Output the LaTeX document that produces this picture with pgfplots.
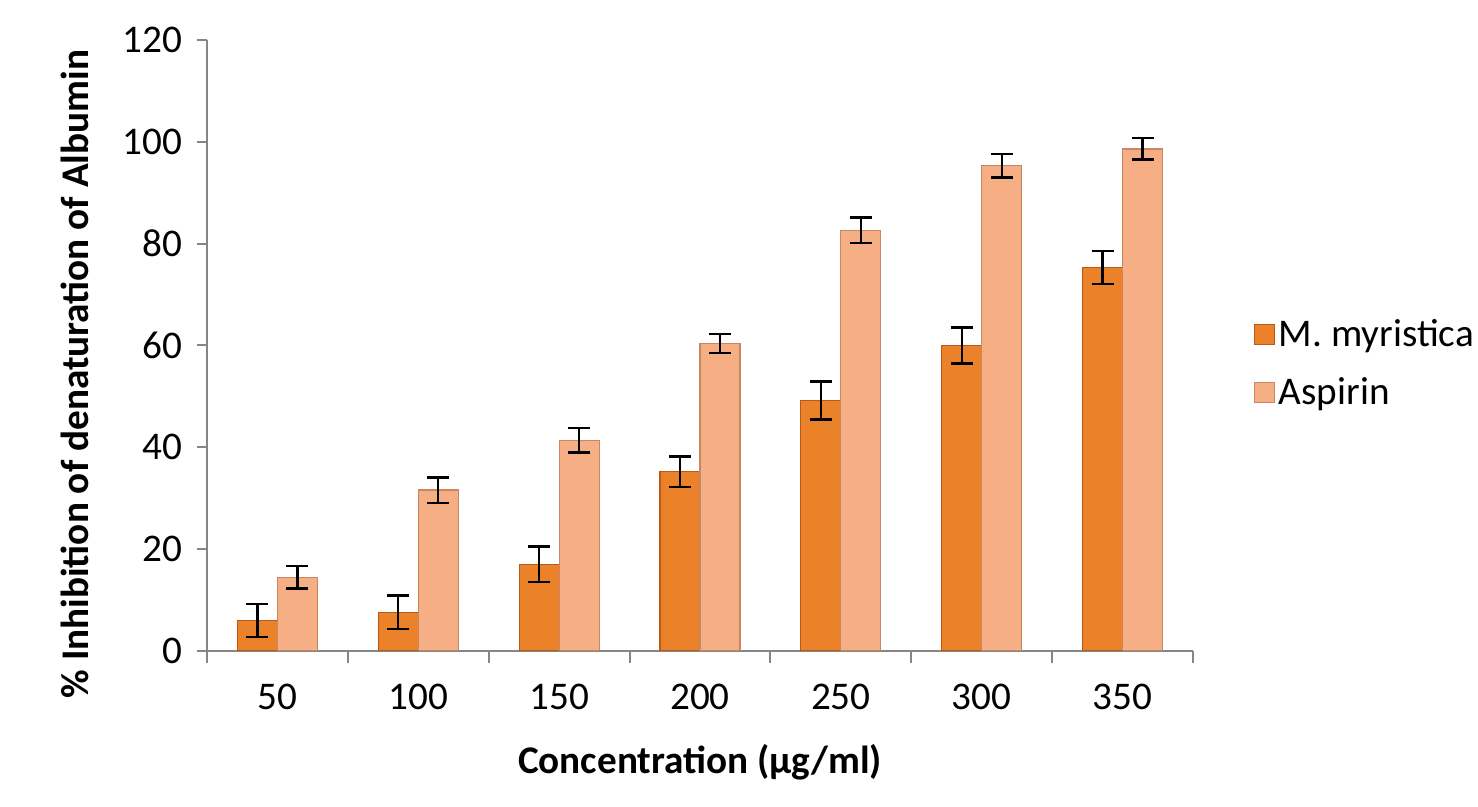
\documentclass[border=0pt]{standalone}
\usepackage{pgfplots}
\pgfplotsset{compat=1.18}
\usepackage{fontspec}
\setmainfont{Carlito}
\definecolor{axgray}{HTML}{868686}
\definecolor{morFill}{HTML}{EB8129}
\definecolor{morEdge}{HTML}{B85A17}
\definecolor{aspFill}{HTML}{F6AE84}
\definecolor{aspEdge}{HTML}{C98663}
\begin{document}
\begin{tikzpicture}
\begin{axis}[
  name=ax,
  scale only axis,
  width=493pt, height=305.5pt,
  xmin=-0.5, xmax=6.5,
  ymin=0, ymax=120,
  ytick={0,20,...,120},
  xtick={0,...,6},
  xticklabels={50,100,150,200,250,300,350},
  minor xtick={-0.5,0.5,...,6.5},
  axis x line=bottom, axis y line=left,
  axis line style={-, axgray, line width=1pt},
  tick style={axgray, line width=1pt},
  major tick length=5pt,
  minor tick length=6pt,
  x tick style={draw=none},
  minor x tick style={draw=axgray, line width=1pt},
  xtick align=outside, ytick align=outside,
  tick label style={font=\fontsize{19.6}{23}\selectfont},
  /pgf/number format/assume math mode=true,
  yticklabel style={xshift=-4pt},
  xticklabel style={yshift=-8pt},
  ylabel={\textbf{\% Inhibition of denaturation of Albumin}},
  ylabel style={font=\fontsize{19.6}{23}\selectfont, at={(axis description cs:-0.134,0.453)}, anchor=center},
  xlabel={\textbf{Concentration (µg/ml)}},
  xlabel style={font=\fontsize{19.6}{23}\selectfont, at={(axis description cs:0.5,-0.182)}, anchor=center},
  ybar=0pt, bar width=20pt,
  legend style={at={(1.055,0.471)}, anchor=west, draw=none, fill=none,
    font=\fontsize{19.6}{23}\selectfont, row sep=10pt,
    legend cell align=left},
  legend image code/.code={\draw[#1] (0pt,-5pt) rectangle (10pt,5pt);},
  error bars/error bar style={line width=1.2pt, black},
  error bars/error mark options={rotate=90, mark size=5.5pt, line width=1.2pt, black},
]
\addplot[fill=morFill, draw=morEdge, line width=0.6pt,
  error bars/.cd, y dir=both, y explicit]
  coordinates {
  (0,6) +- (0,3.2)
  (1,7.6) +- (0,3.3)
  (2,17) +- (0,3.5)
  (3,35.2) +- (0,3.0)
  (4,49.2) +- (0,3.7)
  (5,60) +- (0,3.5)
  (6,75.3) +- (0,3.2)
  };
\addplot[fill=aspFill, draw=aspEdge, line width=0.6pt,
  error bars/.cd, y dir=both, y explicit]
  coordinates {
  (0,14.5) +- (0,2.2)
  (1,31.6) +- (0,2.5)
  (2,41.4) +- (0,2.4)
  (3,60.4) +- (0,1.9)
  (4,82.6) +- (0,2.5)
  (5,95.3) +- (0,2.3)
  (6,98.6) +- (0,2.1)
  };
\legend{M. myristica, Aspirin}
\end{axis}
\pgfresetboundingbox
\path[use as bounding box] ([xshift=-103.5pt,yshift=-78pt]ax.south west) rectangle ([xshift=142.5pt,yshift=20pt]ax.north east);
\end{tikzpicture}
\end{document}
